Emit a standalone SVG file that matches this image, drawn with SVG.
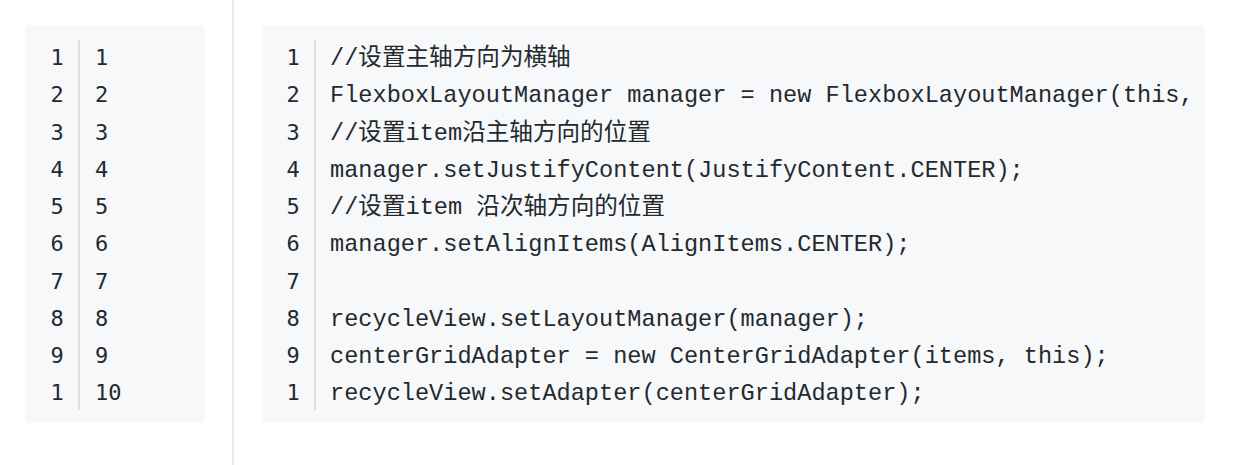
<svg xmlns="http://www.w3.org/2000/svg" width="1240" height="465" viewBox="0 0 1240 465">
<style>
text{font-family:"DejaVu Sans Mono","Liberation Mono","Noto Sans CJK SC",monospace;font-size:22px;fill:#24292e}
.n{text-anchor:middle}
.c{font-family:"Liberation Mono","Noto Sans CJK SC",monospace;font-size:23.6px}
.box{fill:#f6f8fa}
.div{stroke:#d0d4d8;stroke-width:1.5}
</style>
<rect width="1240" height="465" fill="#fff"/>
<line x1="233" y1="0" x2="233" y2="465" stroke="#e1e4e8" stroke-width="1.5"/>
<g id="left">
<rect class="box" x="25" y="25" width="180" height="398" rx="4"/>
<line class="div" x1="79" y1="40" x2="79" y2="410"/>
<g>
<text class="n" x="57" y="65">1</text><text x="95" y="65">1</text>
<text class="n" x="57" y="102">2</text><text x="95" y="102">2</text>
<text class="n" x="57" y="140">3</text><text x="95" y="140">3</text>
<text class="n" x="57" y="177">4</text><text x="95" y="177">4</text>
<text class="n" x="57" y="214">5</text><text x="95" y="214">5</text>
<text class="n" x="57" y="251">6</text><text x="95" y="251">6</text>
<text class="n" x="57" y="289">7</text><text x="95" y="289">7</text>
<text class="n" x="57" y="326">8</text><text x="95" y="326">8</text>
<text class="n" x="57" y="363">9</text><text x="95" y="363">9</text>
<text class="n" x="57" y="400">1</text><text x="95" y="400">10</text>
</g>
</g>
<g id="right">
<rect class="box" x="262" y="25" width="943" height="398" rx="4"/>
<line class="div" x1="315" y1="40" x2="315" y2="410"/>
<g>
<text class="n" x="293" y="65">1</text>
<text class="n" x="293" y="102">2</text>
<text class="n" x="293" y="140">3</text>
<text class="n" x="293" y="177">4</text>
<text class="n" x="293" y="214">5</text>
<text class="n" x="293" y="251">6</text>
<text class="n" x="293" y="289">7</text>
<text class="n" x="293" y="326">8</text>
<text class="n" x="293" y="363">9</text>
<text class="n" x="293" y="400">1</text>
</g>
<g>
<text class="c" x="330" y="65">//设置主轴方向为横轴</text>
<text class="c" x="330" y="102">FlexboxLayoutManager manager = new FlexboxLayoutManager(this,</text>
<text class="c" x="330" y="140">//设置item沿主轴方向的位置</text>
<text class="c" x="330" y="177">manager.setJustifyContent(JustifyContent.CENTER);</text>
<text class="c" x="330" y="214">//设置item 沿次轴方向的位置</text>
<text class="c" x="330" y="251">manager.setAlignItems(AlignItems.CENTER);</text>
<text class="c" x="330" y="326">recycleView.setLayoutManager(manager);</text>
<text class="c" x="330" y="363">centerGridAdapter = new CenterGridAdapter(items, this);</text>
<text class="c" x="330" y="400">recycleView.setAdapter(centerGridAdapter);</text>
</g>
</g>
</svg>
